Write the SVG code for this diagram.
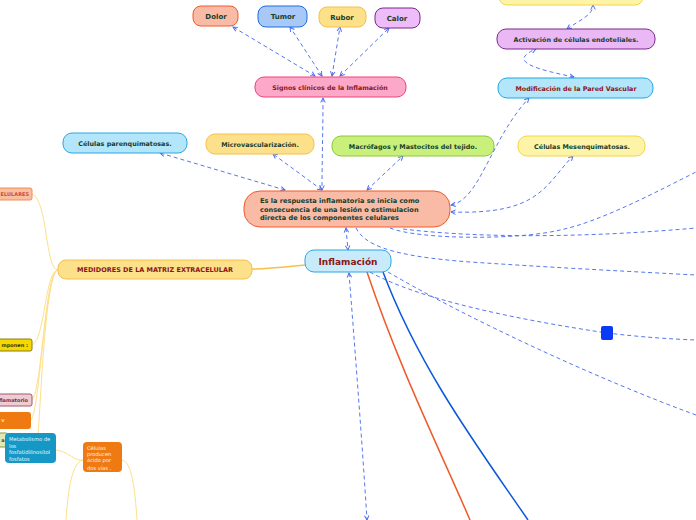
<svg xmlns="http://www.w3.org/2000/svg" width="696" height="520" viewBox="0 0 696 520">
<defs>
<marker id="arr" viewBox="0 0 8 8" refX="7" refY="4" markerWidth="6" markerHeight="6" orient="auto-start-reverse" markerUnits="userSpaceOnUse">
<polyline points="1,1 7,4 1,7" fill="none" stroke="#4a6cf0" stroke-width="1.3"/>
</marker>
<style>
.n text{font-family:"DejaVu Sans",Verdana,sans-serif;font-weight:bold;text-anchor:middle}
.g{fill:#173d2a}
.r{fill:#8b1414}
.d{fill:none;stroke:#5577f0;stroke-width:1;stroke-dasharray:4 3}
.da{fill:none;stroke:#5577f0;stroke-width:1;stroke-dasharray:4 3;marker-start:url(#arr);marker-end:url(#arr)}
.y{fill:none;stroke:#fde08a;stroke-width:1}
</style>
</defs>
<rect width="696" height="520" fill="#ffffff"/>
<g id="connectors">
<path class="da" d="M315,76 L233,27"/>
<path class="da" d="M322,76 L290,27"/>
<path class="da" d="M332,76 L340,27"/>
<path class="da" d="M340,76 L389,28"/>
<path class="da" d="M323,98 C323,130 322,160 322,190"/>
<path class="da" d="M285,190 L160,153"/>
<path class="da" d="M322,190 L273,154"/>
<path class="da" d="M367,190 L403,156"/>
<path class="da" d="M451,205 C480,200 490,140 529,98"/>
<path class="da" d="M451,212 C540,215 545,185 573,156"/>
<path class="da" d="M574,77 C540,70 505,62 536,49"/>
<path class="da" d="M567,29 C580,20 593,15 593,5"/>
<path class="da" d="M346,228 L348,250"/>
<path class="d" d="M356,228 C365,245 390,256 470,262 C560,268 640,272 696,275"/>
<path class="d" d="M390,228 C420,240 520,240 560,230 C600,222 660,190 696,172"/>
<path class="d" d="M403,229 C460,236 560,240 696,228"/>
<path class="d" d="M370,272 C420,300 520,320 607,333 C640,337 670,339 696,340"/>
<path class="d" d="M388,272 C470,320 600,380 696,415"/>
<path class="da" d="M349,273 C355,350 362,440 367,520"/>
<path d="M367,272 C400,370 440,450 470,520" fill="none" stroke="#f05a28" stroke-width="1.5"/>
<path d="M383,272 C420,370 480,450 528,520" fill="none" stroke="#0a5ad8" stroke-width="1.5"/>
<path d="M305,265 C285,267 270,269 252,269" fill="none" stroke="#f5c04a" stroke-width="1.5"/>
<path class="y" d="M58,270 C45,270 48,200 32,194"/>
<path class="y" d="M58,270 C45,270 45,340 32,345"/>
<path class="y" d="M58,270 C45,270 42,390 32,400"/>
<path class="y" d="M58,270 C45,270 40,410 31,420"/>
<path class="y" d="M58,270 C45,270 40,420 38,433"/>
<path class="y" d="M56,450 C70,452 75,462 83,460"/>
<path class="y" d="M83,460 C72,462 68,490 66,520"/>
<path class="y" d="M122,460 C132,462 135,490 137,520"/>
</g>
<g id="dolor" class="n"><rect x="193" y="6" width="45" height="20" rx="8" fill="#f9bba6" stroke="#f05a28"/><text x="216" y="19" font-size="7" class="g">Dolor</text></g>
<g id="tumor" class="n"><rect x="258" y="6" width="49" height="21" rx="8" fill="#a8c8f8" stroke="#1a6ee0"/><text x="283" y="19" font-size="7" class="g">Tumor</text></g>
<g id="rubor" class="n"><rect x="319" y="7" width="47" height="20" rx="8" fill="#fde08a" stroke="#f5c04a"/><text x="342" y="20" font-size="7" class="g">Rubor</text></g>
<g id="calor" class="n"><rect x="375" y="8" width="45" height="20" rx="8" fill="#eebcf8" stroke="#7a2a8a"/><text x="397" y="21" font-size="7" class="g">Calor</text></g>
<g id="signos" class="n"><rect x="255" y="77" width="151" height="20" rx="9" fill="#fba8c9" stroke="#f0407a"/><text x="330" y="89.5" font-size="6.3" class="r">Signos clínicos de la Inflamación</text></g>
<g id="topyellow" class="n"><rect x="499" y="-15" width="144" height="20" rx="8" fill="#fdf4a8" stroke="#f2d548"/></g>
<g id="activacion" class="n"><rect x="497" y="29" width="158" height="20" rx="9" fill="#eab8f5" stroke="#7a2a8a"/><text x="576" y="41.5" font-size="6.4" class="g">Activación de células endoteliales.</text></g>
<g id="modificacion" class="n"><rect x="498" y="78" width="155" height="20" rx="9" fill="#b3e5fb" stroke="#1fa8e0"/><text x="576" y="90.5" font-size="6.4" class="r">Modificación de la Pared Vascular</text></g>
<g id="parenq" class="n"><rect x="63" y="133" width="124" height="20" rx="9" fill="#b3e5fb" stroke="#29a8e0"/><text x="125" y="145.5" font-size="6.4" class="g">Células parenquimatosas.</text></g>
<g id="microvasc" class="n"><rect x="206" y="134" width="108" height="20" rx="9" fill="#fde08a" stroke="#f5c04a"/><text x="260" y="146.5" font-size="6.4" class="g">Microvascularización.</text></g>
<g id="macrofagos" class="n"><rect x="332" y="136" width="162" height="20" rx="9" fill="#c8f07a" stroke="#8cc83a"/><text x="413" y="148.5" font-size="6.4" class="g">Macrófagos y Mastocitos del tejido.</text></g>
<g id="mesenq" class="n"><rect x="518" y="136" width="127" height="20" rx="9" fill="#fdf4a8" stroke="#f2d548"/><text x="582" y="148.5" font-size="6.4" class="g">Células Mesenquimatosas.</text></g>
<g id="central" class="n"><rect x="244" y="191" width="206" height="36" rx="16" fill="#f9bba6" stroke="#f05a28"/><text font-size="6.6" class="g" style="text-anchor:start"><tspan x="260" y="203">Es la respuesta inflamatoria se inicia como</tspan><tspan x="260" y="211.5">consecuencia de una lesión o estimulacion</tspan><tspan x="260" y="220">directa de los componentes celulares</tspan></text></g>
<g id="inflamacion" class="n"><rect x="305" y="250" width="86" height="22" rx="9" fill="#c8ebfb" stroke="#29a8e0"/><text x="348" y="264.5" font-size="9" class="r">Inflamación</text></g>
<g id="medidores" class="n"><rect x="58" y="260" width="194" height="19" rx="8" fill="#fde08a" stroke="#f5c04a"/><text x="155" y="272" font-size="6.5" class="r">MEDIDORES DE LA MATRIZ EXTRACELULAR</text></g>
<g id="celulares" class="n"><rect x="-20" y="188" width="52" height="12" rx="2" fill="#f8c0a0" stroke="#f08a5a"/><text x="29" y="196.3" font-size="5" fill="#d04a3a" style="text-anchor:end">ELULARES</text></g>
<g id="componen" class="n"><rect x="-20" y="339" width="52" height="12" rx="2" fill="#f5d800" stroke="#8a7a20"/><text x="28" y="347.3" font-size="5" fill="#3a3a10" style="text-anchor:end">mponen :</text></g>
<g id="inflamatorio" class="n"><rect x="-20" y="394" width="52" height="12" rx="2" fill="#f0cbd3" stroke="#a05a6a"/><text x="28" y="402.3" font-size="5" fill="#7a3040" style="text-anchor:end">flamatorio</text></g>
<g id="orange" class="n"><rect x="-20" y="412" width="51" height="17" rx="3" fill="#f07a12"/><text x="4.5" y="422" font-size="5" fill="#fde8c8" style="text-anchor:end">v</text></g>
<g id="greensmall" class="n"><rect x="-10" y="433" width="18" height="14" rx="2" fill="#dfe8b8" stroke="#8a9a40"/><text x="4.5" y="442" font-size="5" fill="#3a4a10" style="text-anchor:end">a</text></g>
<g id="metabolismo" class="n"><rect x="5" y="433" width="51" height="30" rx="4" fill="#1598c6"/><text font-size="5.2" fill="#e8f6fb" style="text-anchor:start;font-weight:normal"><tspan x="9" y="441">Metabolismo de</tspan><tspan x="9" y="447.5">los</tspan><tspan x="9" y="454">fosfatidilinositol</tspan><tspan x="9" y="460.5">fosfatos</tspan></text></g>
<g id="producen" class="n"><rect x="83" y="442" width="39" height="30" rx="4" fill="#f07a12"/><text font-size="5.2" fill="#fdf0e0" style="text-anchor:start;font-weight:normal"><tspan x="87" y="449.5">Células</tspan><tspan x="87" y="456">producen</tspan><tspan x="87" y="462">ácido por</tspan><tspan x="87" y="469.5">dos vías .</tspan></text></g>
<g id="square"><rect x="601" y="326" width="12" height="14" rx="2" fill="#0a3af5"/></g>
</svg>
